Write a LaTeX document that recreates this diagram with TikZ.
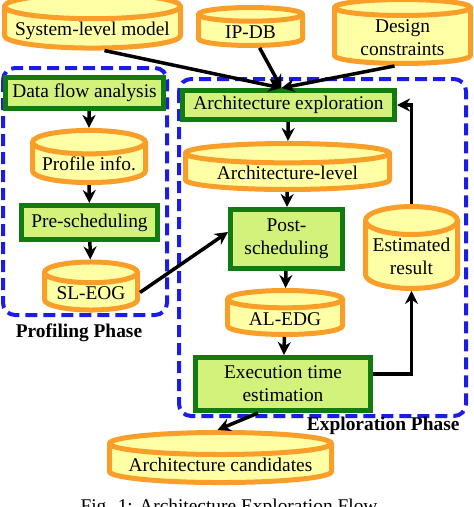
\documentclass[tikz,border=0pt]{standalone}
\usepackage{fontspec}
\setmainfont{Liberation Serif}
\usepackage{tikz}
\usetikzlibrary{shapes.geometric, arrows.meta, positioning, calc}

\definecolor{cylfill}{HTML}{FFFFA6}
\definecolor{cylline}{HTML}{FA9E2A}
\definecolor{boxfill}{HTML}{D2F27C}
\definecolor{boxline}{HTML}{117A11}
\definecolor{phaseline}{HTML}{1C1CE8}

\begin{document}
\begin{tikzpicture}[
    x=1pt, y=-1pt,
    font=\fontsize{19.4}{23}\selectfont,
    data/.style={cylinder, shape border rotate=90, draw=cylline, fill=cylfill, line width=5pt, align=center, inner sep=0pt, anchor=shape center, text height=14.5pt, text depth=0pt, aspect=#1},
    data/.default=0.2,
    twolines/.style={text height=37.5pt},
    task/.style={rectangle, draw=boxline, fill=boxfill, line width=5pt, align=center, inner sep=0pt},
    phasebox/.style={draw=phaseline, line width=4pt, dash pattern=on 12pt off 6pt, rounded corners=12pt},
    phaselabel/.style={font=\fontsize{19.4}{23}\selectfont\bfseries},
    arrow/.style={-{Stealth[length=13pt,width=13pt]}, line width=3.5pt, draw=black}
]
\useasboundingbox (0,0) rectangle (474,507);

% phase frames
\draw[phasebox] (3,68) rectangle (167,315);
\draw[phasebox] (179,79) rectangle (466,416);

% inputs
\node[data=0.16, minimum width=176pt, minimum height=43pt] (slm) at (92.5,21) {System-level model};
\node[data=0.27, minimum width=104pt, minimum height=38pt] (ipdb) at (250.5,26.5) {IP-DB};
\node[data=0.19, minimum width=136pt, minimum height=62pt, twolines] (dc) at (402.5,31.5) {Design\\constraints};

% profiling phase
\node[task, minimum width=158pt, minimum height=31pt] (dfa) at (84.5,93) {Data flow analysis};
\node[data=0.25, minimum width=113pt, minimum height=44pt] (profile) at (89,156.5) {Profile info.};
\node[task, minimum width=136pt, minimum height=34pt] (pre) at (89.5,222.5) {Pre-scheduling};
\node[data=0.3, minimum width=93pt, minimum height=37pt] (sleog) at (91,286) {SL-EOG};
\node[phaselabel] (proflabel) at (79,333) {Profiling Phase};

% exploration phase
\node[task, minimum width=212pt, minimum height=29pt] (ae) at (288.5,105) {Architecture exploration};
\node[data=0.137, minimum width=204pt, minimum height=42pt] (al) at (287.5,166.5) {Architecture-level};
\node[task, minimum width=112pt, minimum height=59pt] (post) at (286.5,239) {Post-\\scheduling};
\node[data=0.24, minimum width=115pt, minimum height=44pt] (aledg) at (285,312.5) {AL-EDG};
\node[task, minimum width=175pt, minimum height=53pt] (exec) at (283,384) {Execution time\\estimation};
\node[data=0.36, minimum width=92pt, minimum height=74pt, twolines] (est) at (411.5,247.5) {Estimated\\result};
\node[phaselabel, anchor=east] (explabel) at (463,426) {Exploration Phase};

% output
\node[data=0.12, minimum width=222pt, minimum height=40pt] (cand) at (220.5,457.5) {Architecture candidates};
\node[anchor=base] (caption) at (229,512) {Fig. 1: Architecture Exploration Flow};

% connectors
\coordinate (merge) at ([xshift=-7pt]ae.north);
\draw[arrow] (slm.south) ++(12pt,0) -- (merge);
\draw[arrow] (ipdb) -- (merge);
\draw[arrow] ([xshift=-8pt]dc.south) -- (merge);
\draw[arrow] (dfa.south -| profile) -- (profile);
\draw[arrow] (profile) -- (pre);
\draw[arrow] (pre) -- (sleog);
\draw[arrow] (sleog.east) -- ([yshift=7pt]post.west);
\draw[arrow] (ae) -- (al);
\draw[arrow] (al) -- (post);
\draw[arrow] (post) -- (aledg);
\draw[arrow] (aledg) -- (exec);
\draw[arrow] ([yshift=10pt]exec.east) -| (est);
\draw[arrow] (est) |- (ae);
\draw[arrow] ([xshift=-25pt]exec.south) -- ([xshift=-3pt]cand.north);

\end{tikzpicture}
\end{document}
